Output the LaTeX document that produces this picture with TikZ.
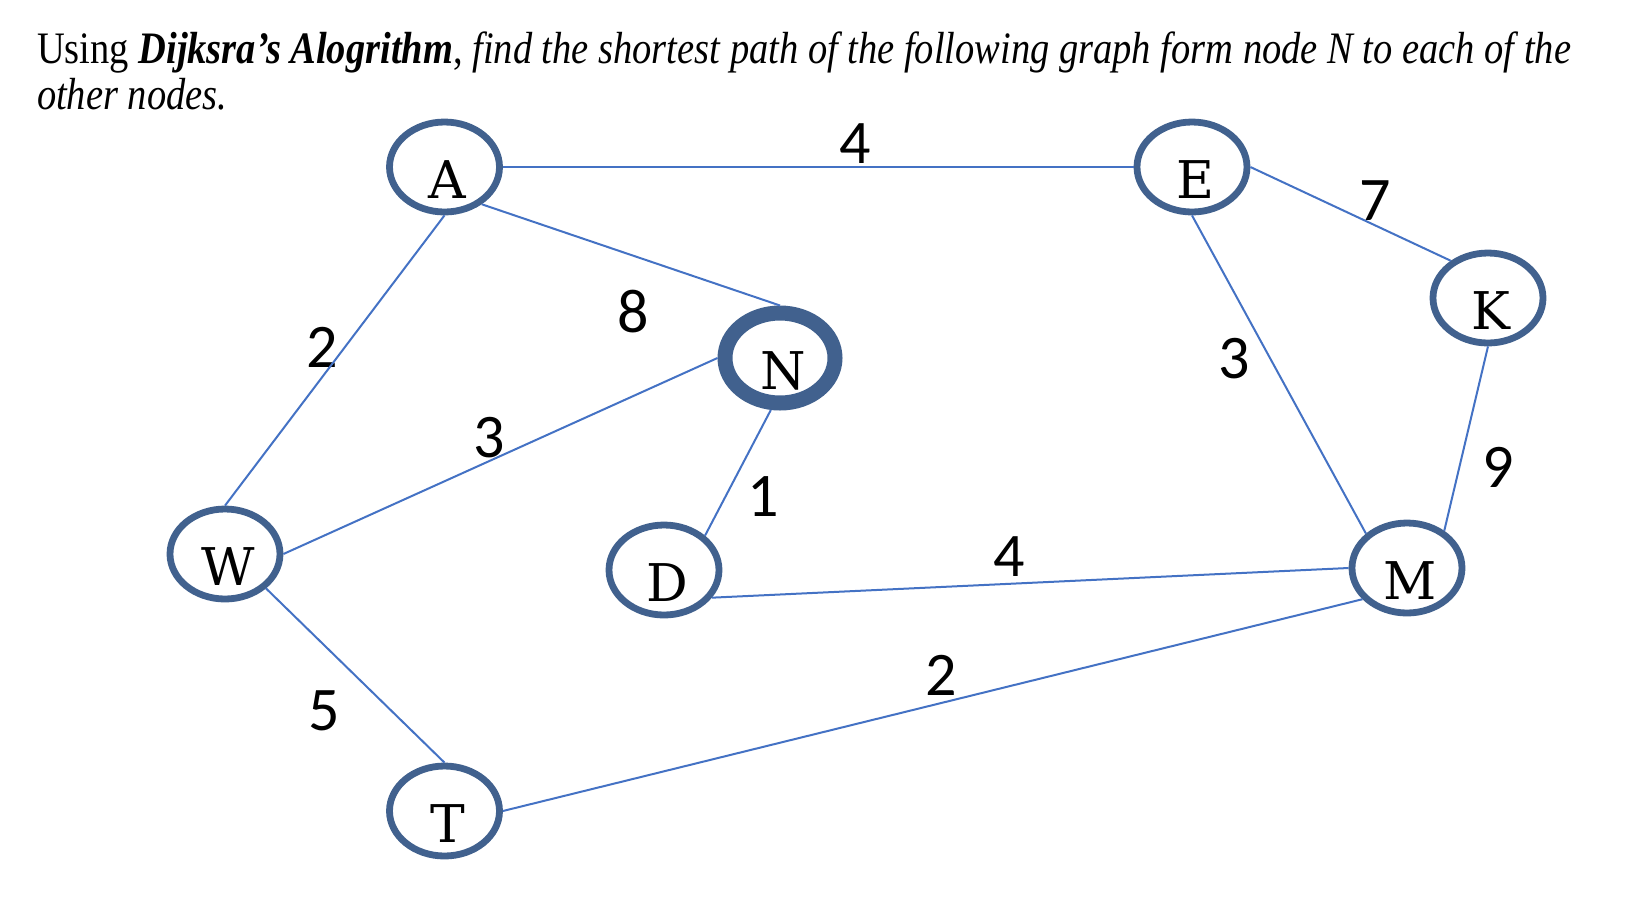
\documentclass[tikz,border=0pt]{standalone}
\usepackage{fontspec}
\setmainfont{Liberation Serif}
\newfontfamily\numfont{Carlito}
\newfontfamily\letterfont{DejaVu Serif}
\newfontfamily\titlefont[FakeStretch=0.855]{Liberation Serif}
\usetikzlibrary{shapes.geometric}
\definecolor{nodeblue}{HTML}{41618E}
\definecolor{lineblue}{HTML}{4472C4}
\tikzstyle{vertex} = [ellipse, draw=nodeblue, line width=3.4pt, fill=white,
    minimum width=55pt, minimum height=45pt, inner sep=0pt]
\tikzstyle{source} = [vertex, line width=7.5pt]
\tikzstyle{letter} = [font=\letterfont\fontsize{26}{26}\selectfont, xshift=1.5pt, yshift=-6.5pt]
\tikzstyle{weight} = [font=\numfont\fontsize{31}{31}\selectfont, inner sep=0pt]
\tikzstyle{edge} = [draw=lineblue, line width=1pt]
\tikzstyle{title} = [font=\titlefont\fontsize{22.5}{24.5}\selectfont, anchor=base west, inner sep=0pt]

\begin{document}
\begin{tikzpicture}[x=0.5pt, y=-0.5pt]
    \useasboundingbox (0,0) rectangle (1640,896);

    % Question text
    \node [title, at={(36.6,63)}] (title) {Using \textbf{\textit{Dijksra’s Alogrithm}}, \textit{find the shortest path of the following graph form node N to each of the}};
    \node [title, at={(36.6,109)}] (title2) {\textit{other nodes.}};

    % Place nodes
    \node [vertex, at={(444.5,167)}, label={[letter]center:A}] (A) {};
    \node [vertex, at={(1192,167)}, label={[letter]center:E}] (E) {};
    \node [vertex, at={(1488,298)}, label={[letter]center:K}] (K) {};
    \node [source, at={(780,358)}, label={[letter]center:N}] (N) {};
    \node [vertex, at={(225,554)}, label={[letter]center:W}] (W) {};
    \node [vertex, at={(664,570)}, label={[letter]center:D}] (D) {};
    \node [vertex, at={(1407,568)}, label={[letter]center:M}] (M) {};
    \node [vertex, at={(444.5,811)}, label={[letter]center:T}] (T) {};

    % Weights
    \node [weight, at={(855.5,143.3)}] (wAE) {4};
    \node [weight, at={(1375.4,200.8)}] (wEK) {7};
    \node [weight, at={(632.8,311.7)}] (wAN) {8};
    \node [weight, at={(322.1,347.2)}] (wAW) {2};
    \node [weight, at={(1234.2,358.7)}] (wEM) {3};
    \node [weight, at={(489.5,437.2)}] (wWN) {3};
    \node [weight, at={(1497.7,467.5)}] (wKM) {9};
    \node [weight, at={(763.5,496.8)}] (wND) {1};
    \node [weight, at={(1009.3,556.4)}] (wDM) {4};
    \node [weight, at={(324.2,711.2)}] (wWT) {5};
    \node [weight, at={(941.3,675.6)}] (wTM) {2};

    % Edges
    \path [edge] (A.east) -- (E.west);
    \path [edge] (A.-45) -- (N.north);
    \path [edge] (A.south) -- (W.north);
    \path [edge] (W.east) -- (N.west);
    \path [edge] (N.-100) -- (D.40);
    \path [edge] (D.-30) -- (M.west);
    \path [edge] (W.-40) -- (T.north);
    \path [edge] (T.east) -- (M.-145);
    \path [edge] (E.east) -- (K.135);
    \path [edge] (E.south) -- (M.140);
    \path [edge] (K.south) -- (M.45);

\end{tikzpicture}
\end{document}
